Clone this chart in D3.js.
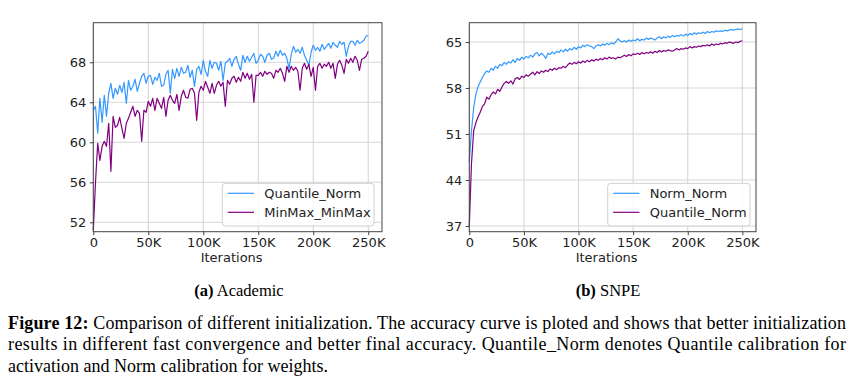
<!DOCTYPE html>
<html>
<head>
<meta charset="utf-8">
<script src="https://cdn.jsdelivr.net/npm/d3@7"></script>
<style>
  body { margin: 0; background: #fff; }
</style>
</head>
<body>
<div id="wrap"></div>
<script>
// iterations in K, one sample every 2K
var iters = d3.range(0, 251, 2);
var xTicks = [0, 50, 100, 150, 200, 250];
var xTickLabels = ["0", "50K", "100K", "150K", "200K", "250K"];

// (a) Academic
var academicTicks = [52, 56, 60, 64, 68];
var academicQuantileNorm = [63.2,63.6,60.9,64.4,62.0,64.7,62.6,64.9,65.9,64.4,65.4,64.8,65.7,65.0,66.0,63.9,66.2,65.2,65.6,66.3,
  65.1,65.9,66.6,66.9,65.9,66.6,66.7,65.8,66.5,66.2,66.9,65.6,65.7,66.8,67.2,64.9,67.3,66.4,67.4,66.6,
  67.5,66.9,67.0,67.7,66.5,67.2,65.6,67.3,67.6,66.8,68.2,67.1,66.6,68.2,67.4,68.0,67.9,67.2,68.1,66.2,
  67.9,68.1,68.4,67.6,68.3,68.6,67.8,67.2,68.7,68.0,68.6,68.1,68.5,68.9,67.9,68.2,68.8,68.6,68.0,68.7,
  68.9,68.3,68.4,69.1,68.6,69.2,68.7,68.9,68.4,67.4,68.8,69.6,69.0,69.3,68.9,69.5,68.7,68.2,67.7,69.0,
  69.7,69.2,69.5,69.1,69.8,69.3,69.6,69.9,69.4,70.0,69.7,69.5,70.1,69.8,70.0,68.6,69.6,70.1,70.1,69.7,
  70.2,69.9,70.0,70.2,70.6,70.7];
var academicMinMax = [51.2,56.0,59.9,58.2,59.6,60.1,59.6,61.9,57.1,62.6,61.5,61.7,62.5,61.4,60.4,61.9,62.4,63.0,63.6,62.6,
  63.2,62.9,60.1,63.2,63.0,64.1,63.6,64.4,63.2,64.4,63.9,63.4,64.5,62.6,64.2,64.7,64.2,63.9,64.8,63.2,
  64.6,65.2,64.5,64.4,65.3,65.4,64.9,62.2,65.0,65.6,65.2,66.1,65.5,64.9,65.9,64.9,65.7,66.1,65.6,66.0,
  63.6,66.2,65.8,66.4,66.6,66.0,66.5,66.1,67.0,66.4,66.9,66.3,66.8,64.0,66.7,66.7,67.0,66.6,67.1,66.8,
  67.0,66.9,66.4,67.2,67.0,67.4,66.9,66.1,67.6,67.0,67.6,67.2,67.5,67.1,65.2,67.4,67.9,67.3,67.8,66.6,
  67.5,65.2,67.6,67.9,67.4,67.8,67.6,68.0,67.4,67.9,66.4,67.8,68.2,67.7,66.9,68.3,67.9,68.4,68.0,68.6,
  68.2,67.2,68.3,68.4,68.6,69.1];

// (b) SNPE
var snpeTicks = [37, 44, 51, 58, 65];
var snpeNormNorm = [46.8,51.5,55.0,57.0,58.2,58.9,59.6,60.2,60.6,60.4,61.0,60.7,61.3,61.0,61.6,61.4,61.9,61.6,62.0,61.8,
  62.3,61.9,62.5,62.2,62.7,62.4,62.8,62.6,63.0,62.7,63.2,63.4,62.9,63.3,63.0,62.5,63.3,63.1,63.5,63.2,
  63.6,63.4,63.8,63.5,63.9,63.6,64.0,63.8,64.2,63.9,64.3,64.1,64.5,64.3,64.6,64.4,64.3,64.0,64.4,64.6,
  64.4,64.7,64.5,64.8,64.6,64.9,64.7,65.0,65.5,65.2,65.0,65.2,65.0,65.3,65.1,65.3,65.2,65.5,65.2,65.4,
  65.3,65.6,65.4,65.6,65.5,65.3,65.6,65.8,65.5,65.8,65.6,65.9,65.7,66.0,65.8,66.0,65.9,66.1,65.9,66.2,
  66.0,66.3,66.1,66.4,66.2,66.4,66.3,66.5,66.3,66.6,66.4,66.6,66.5,66.7,66.6,66.7,66.6,66.8,66.7,66.8,
  66.9,66.8,66.9,67.0,66.9,67.0];
var snpeQuantileNorm = [37.0,46.5,51.5,52.7,53.6,54.3,55.2,55.6,56.6,56.3,57.0,57.4,57.1,57.8,57.5,58.2,58.7,59.0,58.7,59.1,
  58.6,59.4,59.6,59.3,59.8,59.6,60.0,59.8,60.1,60.4,60.0,60.5,60.2,60.6,60.4,60.7,60.5,60.9,60.7,61.0,
  60.8,61.1,61.0,61.3,61.1,61.5,61.8,61.6,61.9,61.7,62.0,61.8,62.1,61.9,62.2,62.0,62.3,62.1,62.4,62.2,
  62.5,62.3,62.6,62.4,62.7,62.5,62.6,62.4,62.7,62.6,62.8,63.0,62.8,63.1,62.9,63.2,63.1,63.3,63.1,63.4,
  63.2,63.4,63.3,63.5,63.3,63.6,63.4,63.7,63.5,63.7,63.6,63.8,63.7,63.6,63.8,64.0,63.8,64.0,63.9,64.1,
  64.0,64.3,64.1,64.3,64.2,64.4,64.3,64.5,64.4,64.6,64.4,64.7,64.5,64.7,64.6,64.8,64.7,64.9,64.8,65.0,
  64.9,64.8,65.0,64.9,65.1,65.2];

// figure caption, one entry per printed line
var captionLines = [
  ["Figure 12:", " Comparison of different initialization. The accuracy curve is ploted and shows that better initialization"],
  ["", "results in different fast convergence and better final accuracy. Quantile_Norm denotes Quantile calibration for"],
  ["", "activation and Norm calibration for weights."]
];

var blue = "#3399ff", purple = "#800080";
var tickFont = "DejaVu Sans, sans-serif";
var serif = "Liberation Serif, Times New Roman, serif";
var fs = 13;

var svg = d3.select("#wrap").append("svg").attr("width", 854).attr("height", 386);

function panel(o) {
  var x = d3.scaleLinear().domain([0, 262.5]).range([o.left, o.right]);
  var y = d3.scaleLinear().domain(o.yDomain).range([231.7, 22.7]);
  var g = svg.append("g");

  // grid
  g.append("g").selectAll("line").data(xTicks).enter().append("line")
    .attr("x1", function(d){ return x(d); }).attr("x2", function(d){ return x(d); })
    .attr("y1", 22.7).attr("y2", 231.7)
    .attr("stroke", "#d6d6d6").attr("stroke-width", 1.1);
  g.append("g").selectAll("line").data(o.yTicks).enter().append("line")
    .attr("y1", function(d){ return y(d); }).attr("y2", function(d){ return y(d); })
    .attr("x1", o.left).attr("x2", o.right)
    .attr("stroke", "#d6d6d6").attr("stroke-width", 1.1);

  // lines
  var line = d3.line().x(function(d){ return x(d[0]); }).y(function(d){ return y(d[1]); });
  o.series.forEach(function(s){
    g.append("path").datum(d3.zip(iters, s.values))
      .attr("fill", "none").attr("stroke", s.color).attr("stroke-width", 1.2)
      .attr("stroke-linejoin", "round").attr("d", line);
  });

  // axes
  var xa = g.append("g").attr("transform", "translate(0,231.7)")
    .call(d3.axisBottom(x).tickValues(xTicks).tickFormat(function(d, i){ return xTickLabels[i]; })
      .tickSize(3.5).tickPadding(3));
  var ya = g.append("g").attr("transform", "translate(" + o.left + ",0)")
    .call(d3.axisLeft(y).tickValues(o.yTicks).tickSize(3.5).tickPadding(3.5));
  [xa, ya].forEach(function(a){
    a.select(".domain").remove();
    a.selectAll("line").attr("stroke", "#444");
    a.selectAll("text").attr("font-family", tickFont).attr("font-size", fs).attr("fill", "#222");
  });
  g.append("text").attr("x", (o.left + o.right) / 2 - 6).attr("y", 262).attr("text-anchor", "middle")
    .attr("font-family", tickFont).attr("font-size", fs).attr("fill", "#222").text("Iterations");

  // spines
  g.append("rect").attr("x", o.left).attr("y", 22.7).attr("width", o.right - o.left).attr("height", 231.7 - 22.7)
    .attr("fill", "none").attr("stroke", "#444").attr("stroke-width", 1);

  // legend
  var lg = g.append("g");
  lg.append("rect").attr("x", o.legX).attr("y", 183.3).attr("width", o.legW).attr("height", 42.7)
    .attr("rx", 3).attr("fill", "#fff").attr("fill-opacity", 0.85).attr("stroke", "#d0d0d0");
  o.series.forEach(function(s, i){
    var yy = 193.3 + i * 19;
    lg.append("line").attr("x1", o.legX + 5.4).attr("x2", o.legX + 31.7).attr("y1", yy).attr("y2", yy)
      .attr("stroke", s.color).attr("stroke-width", 1.2);
    lg.append("text").attr("x", o.legX + 42).attr("y", yy + 4.7)
      .attr("font-family", tickFont).attr("font-size", fs).attr("fill", "#222").text(s.name);
  });

  // sub caption
  var sc = svg.append("text").attr("x", o.capX).attr("y", 296).attr("text-anchor", "middle")
    .attr("font-family", serif).attr("font-size", 16.5);
  sc.append("tspan").attr("font-weight", "bold").text(o.capTag);
  sc.append("tspan").text(" " + o.capText);
}

panel({ left: 93.3, right: 382, yDomain: [51.06, 71.96], yTicks: academicTicks,
  series: [{name: "Quantile_Norm", color: blue, values: academicQuantileNorm},
           {name: "MinMax_MinMax", color: purple, values: academicMinMax}],
  legX: 222.3, legW: 151.7, capX: 239, capTag: "(a)", capText: "Academic" });

panel({ left: 469.3, right: 756, yDomain: [36.13, 67.94], yTicks: snpeTicks,
  series: [{name: "Norm_Norm", color: blue, values: snpeNormNorm},
           {name: "Quantile_Norm", color: purple, values: snpeQuantileNorm}],
  legX: 607.7, legW: 142.3, capX: 608, capTag: "(b)", capText: "SNPE" });

// caption: first two lines stretched to the full width (justified)
captionLines.forEach(function(l, i){
  var t = svg.append("text").attr("x", 8).attr("y", 328.5 + i * 21.5)
    .attr("font-family", serif).attr("font-size", 18).attr("fill", "#000");
  if (i < 2) t.attr("textLength", 838).attr("lengthAdjust", "spacing");
  if (l[0]) t.append("tspan").attr("font-weight", "bold").text(l[0]);
  t.append("tspan").text(l[1]);
});
</script>
</body>
</html>
